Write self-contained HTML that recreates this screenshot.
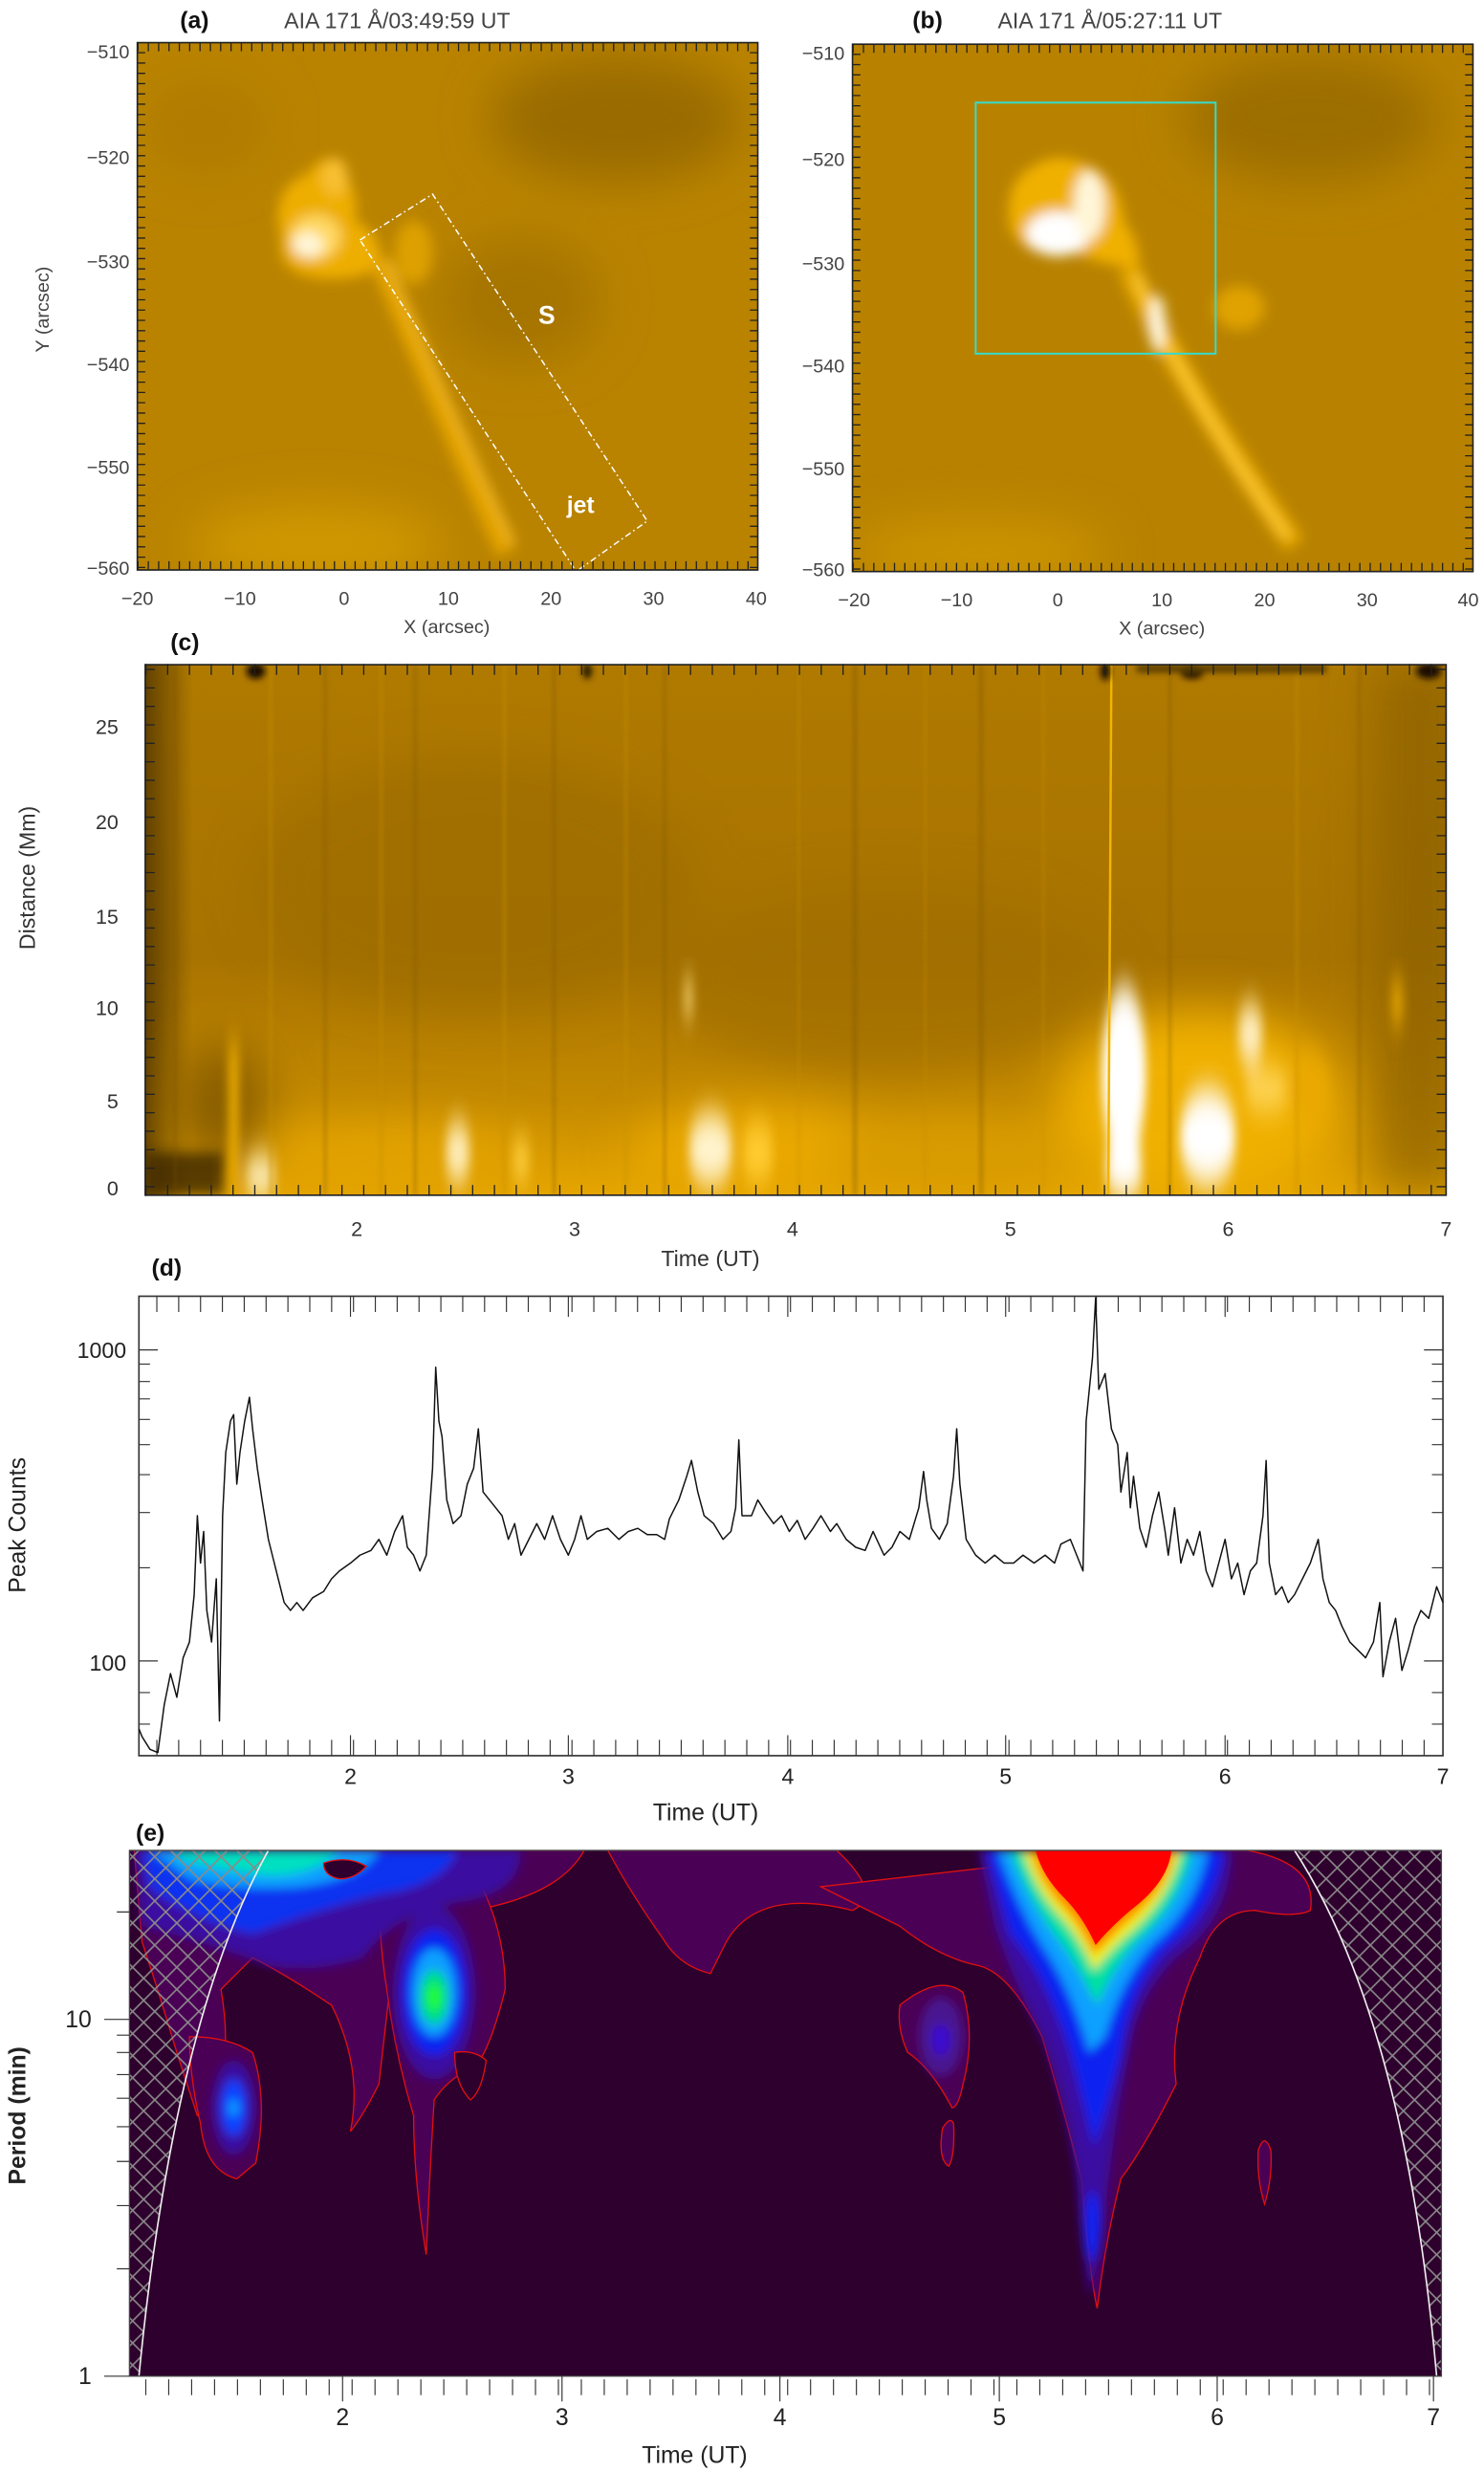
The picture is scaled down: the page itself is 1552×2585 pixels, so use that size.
<!DOCTYPE html>
<html><head><meta charset="utf-8"><style>
html,body{margin:0;padding:0;background:#fff;overflow:hidden;width:1552px;height:2585px;}
svg{display:block;}
text{font-family:"Liberation Sans",sans-serif;}
</style></head><body>
<svg width="1552" height="2585" viewBox="0 0 940 1565.7" preserveAspectRatio="none" xmlns="http://www.w3.org/2000/svg">
<defs>
<filter id="b2" x="-50%" y="-50%" width="200%" height="200%"><feGaussianBlur stdDeviation="2"/></filter>
<filter id="b4" x="-50%" y="-50%" width="200%" height="200%"><feGaussianBlur stdDeviation="4"/></filter>
<filter id="b15" x="-50%" y="-50%" width="200%" height="200%"><feGaussianBlur stdDeviation="15"/></filter>
<filter id="b1" x="-20%" y="-20%" width="140%" height="140%"><feGaussianBlur stdDeviation="1.2"/></filter>
<filter id="bv" x="-50%" y="-10%" width="200%" height="120%"><feGaussianBlur stdDeviation="3 10"/></filter>
<filter id="bc" x="-10%" y="-10%" width="120%" height="120%"><feGaussianBlur stdDeviation="3"/></filter>
<clipPath id="ca"><rect x="87" y="27" width="393" height="334"/></clipPath>
<clipPath id="cb"><rect x="540" y="28" width="393" height="334"/></clipPath>
<clipPath id="cc"><rect x="92" y="421" width="824" height="336"/></clipPath>
<clipPath id="ce"><rect x="82" y="1172" width="831" height="333"/></clipPath>
<linearGradient id="gc" x1="0" y1="0" x2="0" y2="1">
<stop offset="0" stop-color="#b07a00"/><stop offset="0.55" stop-color="#a87300"/><stop offset="0.82" stop-color="#c48a00"/><stop offset="1" stop-color="#e6a600"/>
</linearGradient>
<linearGradient id="gl" x1="0" y1="0" x2="1" y2="0">
<stop offset="0" stop-color="#5a3c00" stop-opacity="0.9"/><stop offset="1" stop-color="#5a3c00" stop-opacity="0"/>
</linearGradient>
<pattern id="hatch" width="14" height="14" patternUnits="userSpaceOnUse">
<path d="M0,0 L14,14 M14,0 L0,14" stroke="#8a8a8a" stroke-width="1"/>
</pattern>
</defs>
<rect width="940" height="1566" fill="#fff"/>

<!-- ===== Panel a ===== -->
<g clip-path="url(#ca)">
<rect x="87" y="27" width="393" height="334" fill="#b98300"/>
<g filter="url(#b15)">
<ellipse cx="390" cy="75" rx="80" ry="40" fill="#9a6c00"/>
<ellipse cx="330" cy="190" rx="50" ry="40" fill="#a67500"/>
<ellipse cx="130" cy="80" rx="40" ry="30" fill="#b07c00"/>
<ellipse cx="200" cy="345" rx="80" ry="25" fill="#d09800"/>
</g>
<g filter="url(#b4)">
<path d="M178,150 Q170,120 195,110 Q205,95 215,105 Q228,120 225,140 Q245,150 240,170 Q220,180 195,175 Q175,170 178,150 Z" fill="#eeae00"/>
<ellipse cx="200" cy="150" rx="16" ry="14" fill="#ffd860"/>
<ellipse cx="195" cy="155" rx="10" ry="8" fill="#fff6d8"/>
<ellipse cx="212" cy="112" rx="8" ry="12" fill="#f8c030"/>
<path d="M240,165 Q275,250 320,350" stroke="#e2a200" stroke-width="12" fill="none"/>
<path d="M245,165 Q280,250 325,345" stroke="#f7bb20" stroke-width="4" fill="none"/>
<ellipse cx="262" cy="160" rx="12" ry="20" fill="#dda000"/>
</g>
<polygon points="228,152 274,123 410,330 365,362" fill="none" stroke="#fff" stroke-width="0.9" stroke-dasharray="4 2 1 2"/>
</g>
<text x="341" y="205" fill="#fff" font-weight="bold" font-size="16">S</text>
<text x="359" y="325" fill="#fff" font-weight="bold" font-size="15">jet</text>
<rect x="87" y="27" width="393" height="334" fill="none" stroke="#222" stroke-width="1"/>
<g stroke="#222" stroke-width="0.8">
<line x1="87" y1="30" x2="480" y2="30" stroke-width="5" stroke-dasharray="0.8 5.75"/>
<line x1="87" y1="358" x2="480" y2="358" stroke-width="5" stroke-dasharray="0.8 5.75"/>
<line x1="89.5" y1="33" x2="89.5" y2="361" stroke-width="5" stroke-dasharray="0.8 5.72"/>
<line x1="477.5" y1="33" x2="477.5" y2="361" stroke-width="5" stroke-dasharray="0.8 5.72"/>
</g>
<g font-size="12" fill="#444" text-anchor="middle">
<text x="87" y="383">−20</text><text x="152" y="383">−10</text><text x="218" y="383">0</text><text x="284" y="383">10</text><text x="349" y="383">20</text><text x="414" y="383">30</text><text x="479" y="383">40</text>
<text x="283" y="401">X (arcsec)</text>
</g>
<g font-size="12" fill="#444" text-anchor="end">
<text x="82" y="37">−510</text><text x="82" y="104">−520</text><text x="82" y="170">−530</text><text x="82" y="235">−540</text><text x="82" y="300">−550</text><text x="82" y="364">−560</text>
</g>
<text transform="translate(31,196) rotate(-90)" font-size="12" fill="#444" text-anchor="middle">Y (arcsec)</text>
<text x="114" y="18" font-size="15" font-weight="bold" fill="#111">(a)</text>
<text x="180" y="18" font-size="14" fill="#444">AIA 171 Å/03:49:59 UT</text>

<!-- ===== Panel b ===== -->
<g clip-path="url(#cb)">
<rect x="540" y="28" width="393" height="334" fill="#b88200"/>
<g filter="url(#b15)">
<ellipse cx="830" cy="75" rx="80" ry="40" fill="#9c6e00"/>
<ellipse cx="620" cy="350" rx="80" ry="20" fill="#cc9400"/>
</g>
<g filter="url(#b4)">
<path d="M640,145 Q635,115 655,105 Q670,95 690,105 Q710,115 712,140 Q725,160 720,170 Q700,168 680,160 Q650,165 640,145 Z" fill="#f0b000"/>
<ellipse cx="670" cy="148" rx="20" ry="14" fill="#ffffff"/>
<ellipse cx="690" cy="130" rx="10" ry="22" fill="#fff6d8"/>
<ellipse cx="785" cy="195" rx="16" ry="14" fill="#dfa200"/>
<path d="M715,170 Q740,230 820,345" stroke="#e6a800" stroke-width="14" fill="none"/>
<path d="M720,175 Q745,240 815,340" stroke="#ffcc30" stroke-width="5" fill="none"/>
<ellipse cx="733" cy="205" rx="5" ry="18" fill="#fff8e0"/>
</g>
<rect x="618" y="65" width="152" height="159" fill="none" stroke="#33ddd0" stroke-width="1.2"/>
</g>
<rect x="540" y="28" width="393" height="334" fill="none" stroke="#222" stroke-width="1"/>
<g stroke="#222" stroke-width="0.8">
<line x1="540" y1="31" x2="933" y2="31" stroke-width="5" stroke-dasharray="0.8 5.75"/>
<line x1="540" y1="359" x2="933" y2="359" stroke-width="5" stroke-dasharray="0.8 5.75"/>
<line x1="542.5" y1="34" x2="542.5" y2="362" stroke-width="5" stroke-dasharray="0.8 5.72"/>
<line x1="930.5" y1="34" x2="930.5" y2="362" stroke-width="5" stroke-dasharray="0.8 5.72"/>
</g>
<g font-size="12" fill="#444" text-anchor="middle">
<text x="541" y="384">−20</text><text x="606" y="384">−10</text><text x="670" y="384">0</text><text x="736" y="384">10</text><text x="801" y="384">20</text><text x="866" y="384">30</text><text x="930" y="384">40</text>
<text x="736" y="402">X (arcsec)</text>
</g>
<g font-size="12" fill="#444" text-anchor="end">
<text x="535" y="38">−510</text><text x="535" y="105">−520</text><text x="535" y="171">−530</text><text x="535" y="236">−540</text><text x="535" y="301">−550</text><text x="535" y="365">−560</text>
</g>
<text x="578" y="18" font-size="15" font-weight="bold" fill="#111">(b)</text>
<text x="632" y="18" font-size="14" fill="#444">AIA 171 Å/05:27:11 UT</text>

<!-- ===== Panel c ===== -->
<g clip-path="url(#cc)">
<rect x="92" y="421" width="824" height="336" fill="url(#gc)"/>
<rect x="92" y="421" width="30" height="336" fill="url(#gl)"/>
<g filter="url(#b15)">
<rect x="870" y="421" width="60" height="336" fill="#8a6000" opacity="0.7"/>
<ellipse cx="300" cy="560" rx="140" ry="80" fill="#9c6c00" opacity="0.7"/>
<ellipse cx="560" cy="620" rx="140" ry="60" fill="#a06e00" opacity="0.7"/>
<ellipse cx="250" cy="735" rx="90" ry="22" fill="#e2a200"/>
<ellipse cx="480" cy="730" rx="80" ry="30" fill="#eaa800"/>
<ellipse cx="760" cy="700" rx="90" ry="60" fill="#f0b000"/>
<ellipse cx="600" cy="735" rx="80" ry="22" fill="#d89b00"/>
<ellipse cx="140" cy="700" rx="30" ry="40" fill="#8a5e00"/>
</g>
<rect x="92" y="730" width="50" height="27" fill="#3a2600" filter="url(#b4)" opacity="0.8"/>
<g filter="url(#bv)">
<rect x="145" y="660" width="6" height="97" fill="#f0b000"/>
<ellipse cx="165" cy="745" rx="10" ry="12" fill="#fff4cc"/>
<ellipse cx="290" cy="730" rx="8" ry="18" fill="#fff0c0"/>
<ellipse cx="330" cy="735" rx="6" ry="12" fill="#ffd040"/>
<ellipse cx="450" cy="728" rx="14" ry="22" fill="#fff4d0"/>
<ellipse cx="480" cy="730" rx="10" ry="18" fill="#ffcc30"/>
<ellipse cx="436" cy="632" rx="3" ry="12" fill="#ffe080"/>
<ellipse cx="712" cy="680" rx="14" ry="55" fill="#ffffff"/>
<ellipse cx="712" cy="740" rx="12" ry="18" fill="#ffffff"/>
<ellipse cx="765" cy="720" rx="18" ry="30" fill="#ffffff"/>
<ellipse cx="792" cy="655" rx="8" ry="18" fill="#fff0c8"/>
<ellipse cx="802" cy="690" rx="14" ry="12" fill="#ffd860"/>
<ellipse cx="830" cy="690" rx="12" ry="20" fill="#eaa800"/>
<ellipse cx="885" cy="635" rx="4" ry="15" fill="#e8a800"/>
</g>
<g opacity="0.3" filter="url(#b1)">
<rect x="110" y="421" width="2" height="336" fill="#7a5400"/><rect x="170" y="421" width="3" height="336" fill="#c99200"/>
<rect x="205" y="421" width="2" height="336" fill="#805800"/><rect x="240" y="421" width="3" height="336" fill="#c89000"/>
<rect x="262" y="421" width="2" height="336" fill="#7e5600"/><rect x="318" y="421" width="3" height="336" fill="#c99200"/>
<rect x="350" y="421" width="2" height="336" fill="#7a5400"/><rect x="395" y="421" width="3" height="336" fill="#c89000"/>
<rect x="420" y="421" width="2" height="336" fill="#7e5600"/><rect x="505" y="421" width="2" height="336" fill="#c99200"/>
<rect x="540" y="421" width="3" height="336" fill="#7a5400"/><rect x="585" y="421" width="2" height="336" fill="#c89000"/>
<rect x="620" y="421" width="3" height="336" fill="#7e5600"/><rect x="660" y="421" width="2" height="336" fill="#c99200"/>
<rect x="740" y="421" width="2" height="336" fill="#7a5400"/><rect x="820" y="421" width="3" height="336" fill="#c89000"/>
<rect x="860" y="421" width="2" height="336" fill="#7e5600"/>
</g>
<line x1="704" y1="421" x2="702" y2="757" stroke="#f2b400" stroke-width="1.5"/>
<g filter="url(#b2)">
<ellipse cx="162" cy="425" rx="6" ry="5" fill="#1a1000"/>
<ellipse cx="372" cy="425" rx="3" ry="5" fill="#2a1a00"/>
<ellipse cx="700" cy="425" rx="3" ry="6" fill="#1a1000"/>
<ellipse cx="755" cy="425" rx="8" ry="5" fill="#1a1000"/>
<ellipse cx="905" cy="425" rx="8" ry="5" fill="#1a1000"/>
<rect x="720" y="421" width="120" height="5" fill="#5a3c00"/>
</g>
</g>
<rect x="92" y="421" width="824" height="336" fill="none" stroke="#222" stroke-width="1"/>
<g stroke="#222">
<line x1="92" y1="424" x2="916" y2="424" stroke-width="7" stroke-dasharray="0.8 13"/>
<line x1="92" y1="754" x2="916" y2="754" stroke-width="7" stroke-dasharray="0.8 13"/>
<line x1="95" y1="752" x2="95" y2="421" stroke-width="6" stroke-dasharray="0.8 10.9"/>
<line x1="913" y1="752" x2="913" y2="421" stroke-width="6" stroke-dasharray="0.8 10.9"/>
</g>
<g font-size="13" fill="#333" text-anchor="middle">
<text x="226" y="783">2</text><text x="364" y="783">3</text><text x="502" y="783">4</text><text x="640" y="783">5</text><text x="778" y="783">6</text><text x="916" y="783">7</text>
<text x="450" y="802" font-size="14">Time (UT)</text>
</g>
<g font-size="13" fill="#333" text-anchor="end">
<text x="75" y="757">0</text><text x="75" y="702">5</text><text x="75" y="643">10</text><text x="75" y="585">15</text><text x="75" y="525">20</text><text x="75" y="465">25</text>
</g>
<text transform="translate(22,556) rotate(-90)" font-size="14" fill="#333" text-anchor="middle">Distance (Mm)</text>
<text x="108" y="412" font-size="15" font-weight="bold" fill="#111">(c)</text>

<!-- ===== Panel d ===== -->
<rect x="88" y="821" width="826" height="291" fill="#fff" stroke="#333" stroke-width="1"/>
<g stroke="#333" stroke-width="0.7">
<line x1="88" y1="826" x2="914" y2="826" stroke-width="10" stroke-dasharray="0.7 13.14" stroke-dashoffset="-11"/>
<line x1="88" y1="1107" x2="914" y2="1107" stroke-width="10" stroke-dasharray="0.7 13.14" stroke-dashoffset="-11"/>
<path d="M222,821v13M360,821v13M499,821v13M637,821v13M776,821v13M222,1112v-13M360,1112v-13M499,1112v-13M637,1112v-13M776,1112v-13"/>
<path d="M88,855h12M914,855h-12M88,1052h12M914,1052h-12"/>
<path d="M88,993h7M88,958h7M88,934h7M88,915h7M88,899h7M88,886h7M88,875h7M88,864h7M88,1092h7M88,1072h7
M914,993h-7M914,958h-7M914,934h-7M914,915h-7M914,899h-7M914,886h-7M914,875h-7M914,864h-7M914,1092h-7M914,1072h-7"/>
</g>
<polyline fill="none" stroke="#111" stroke-width="0.9" stroke-linejoin="round" points="88,1095 90,1100 95,1108 100,1110 104,1080 108,1060 112,1075 116,1050 120,1040 123,1010 125,960 127,990 129,970 131,1020 134,1040 137,1000 139,1090 141,960 143,920 146,900 148,896 150,940 152,920 155,900 158,885 160,905 163,930 166,950 170,975 175,995 180,1015 184,1020 188,1015 192,1020 198,1012 205,1008 210,1000 215,995 222,990 228,985 235,982 240,975 245,985 250,970 255,960 258,980 262,985 266,995 270,985 274,930 276,866 278,900 280,910 283,950 287,965 292,960 296,940 300,930 303,905 306,945 310,950 314,955 318,960 322,975 326,965 330,985 335,975 340,965 345,975 350,960 355,975 360,985 364,975 368,960 372,975 378,970 385,968 392,975 398,970 404,968 410,972 416,972 421,975 424,962 430,950 435,935 438,925 442,945 446,960 452,965 458,975 463,970 466,955 468,912 470,960 476,960 480,950 485,958 490,965 495,960 500,970 505,963 510,975 515,968 520,960 526,970 530,965 536,975 542,980 548,982 553,970 560,985 565,980 570,970 576,975 582,955 585,932 587,950 590,968 595,975 600,965 604,935 606,905 608,940 612,975 618,985 624,990 630,985 636,990 642,990 648,985 655,990 662,985 668,990 672,978 678,975 682,985 686,995 688,900 692,860 694,822 696,880 700,870 704,905 708,915 710,945 714,920 716,955 718,935 722,968 726,980 730,960 734,945 738,970 740,985 744,955 748,990 752,975 756,985 760,970 764,995 768,1005 772,990 776,975 780,1000 784,990 788,1010 792,995 796,990 800,960 802,925 804,990 808,1010 812,1005 816,1015 820,1010 825,1000 830,990 835,975 838,1000 842,1015 846,1020 850,1030 855,1040 860,1045 865,1050 870,1040 874,1015 876,1062 880,1040 884,1025 888,1058 892,1045 896,1030 900,1020 905,1025 910,1005 914,1015"/>
<g font-size="14" fill="#222" text-anchor="middle">
<text x="222" y="1130">2</text><text x="360" y="1130">3</text><text x="499" y="1130">4</text><text x="637" y="1130">5</text><text x="776" y="1130">6</text><text x="914" y="1130">7</text>
<text x="447" y="1153" font-size="15">Time (UT)</text>
</g>
<g font-size="14" fill="#222" text-anchor="end">
<text x="80" y="860">1000</text><text x="80" y="1058">100</text>
</g>
<text transform="translate(16,966) rotate(-90)" font-size="15" fill="#222" text-anchor="middle">Peak Counts</text>
<text x="96" y="808" font-size="15" font-weight="bold" fill="#111">(d)</text>

<!-- ===== Panel e ===== -->
<g clip-path="url(#ce)">
<rect x="82" y="1172" width="831" height="333" fill="#2e002d"/>
<g fill="#4a0055" stroke="#e01010" stroke-width="0.8">
<path d="M85,1172 L370,1172 Q355,1200 300,1210 Q260,1215 248,1250 L240,1320 Q230,1340 222,1350 Q230,1310 210,1270 Q180,1250 160,1240 L140,1260 Q150,1320 125,1340 L112,1300 Q100,1260 90,1230 Z"/>
<path d="M120,1290 Q145,1290 160,1300 Q170,1330 162,1370 L150,1380 Q130,1375 127,1345 Q120,1315 120,1290 Z"/>
<path d="M240,1190 Q270,1180 285,1175 L300,1185 Q320,1220 320,1260 Q310,1300 300,1310 Q285,1315 275,1330 Q272,1380 270,1428 Q262,1380 262,1340 Q250,1300 245,1260 Q240,1230 240,1190 Z"/>
<path d="M385,1172 L530,1172 Q560,1200 540,1210 Q480,1195 460,1230 L450,1250 Q430,1245 420,1228 Q400,1200 385,1172 Z"/>
<path d="M520,1195 L720,1172 L790,1172 Q835,1180 830,1210 Q820,1215 795,1210 Q770,1210 760,1240 Q740,1280 745,1320 Q725,1360 710,1380 Q700,1420 695,1462 Q690,1440 685,1380 Q672,1330 660,1290 Q640,1250 620,1245 Q595,1240 570,1220 Z"/>
<path d="M570,1270 Q595,1250 610,1262 Q618,1290 610,1320 Q607,1335 603,1335 Q590,1310 575,1300 Q568,1285 570,1270 Z"/>
<path d="M597,1348 Q602,1340 604,1345 Q605,1365 601,1372 Q594,1368 597,1348 Z"/>
<path d="M797,1362 Q801,1350 805,1362 Q806,1380 801,1396 Q796,1380 797,1362 Z"/>
</g>
<g filter="url(#bc)">
<path d="M85,1172 L330,1172 Q330,1200 290,1205 Q250,1212 230,1240 Q200,1250 170,1245 Q130,1230 90,1220 Z" fill="#3a10a0"/>
<path d="M90,1172 L290,1172 Q280,1195 240,1200 Q200,1210 160,1225 Q120,1215 95,1195 Z" fill="#1030f0"/>
<path d="M95,1172 L240,1172 Q230,1190 190,1195 Q150,1198 120,1190 Z" fill="#10a0ff"/>
<path d="M110,1172 L215,1172 Q200,1188 170,1188 Q140,1185 115,1178 Z" fill="#00e0c0"/>
<ellipse cx="148" cy="1335" rx="14" ry="30" fill="#3a10a0"/>
<ellipse cx="148" cy="1335" rx="8" ry="18" fill="#1040ff"/>
<ellipse cx="148" cy="1335" rx="3" ry="6" fill="#10a0ff"/>
<ellipse cx="275" cy="1262" rx="26" ry="55" fill="#3a10a0"/>
<ellipse cx="275" cy="1262" rx="20" ry="40" fill="#1020f0"/>
<ellipse cx="275" cy="1262" rx="14" ry="28" fill="#10a0ff"/>
<ellipse cx="275" cy="1265" rx="9" ry="17" fill="#00e080"/>
<ellipse cx="275" cy="1265" rx="4" ry="8" fill="#20ff20"/>
<ellipse cx="596" cy="1290" rx="14" ry="25" fill="#4a1890"/>
<ellipse cx="596" cy="1292" rx="6" ry="10" fill="#3a10d0"/>
<path d="M620,1172 L780,1172 Q780,1215 745,1240 Q720,1265 715,1300 Q705,1350 700,1400 Q695,1440 690,1455 Q685,1420 682,1380 Q675,1330 660,1290 Q640,1250 630,1220 Z" fill="#3a10a0"/>
<path d="M625,1172 L775,1172 Q770,1210 738,1235 Q715,1260 710,1300 Q700,1340 693,1360 Q686,1330 678,1300 Q662,1250 640,1225 Z" fill="#1020f0"/>
<path d="M632,1172 L765,1172 Q758,1208 730,1232 Q710,1255 700,1290 L690,1300 Q680,1265 665,1240 Q645,1210 632,1172 Z" fill="#10a0ff"/>
<path d="M640,1172 L755,1172 Q748,1205 722,1228 Q705,1245 695,1270 Q680,1240 668,1225 Q650,1200 640,1172 Z" fill="#00e0a0"/>
<path d="M648,1172 L748,1172 Q742,1200 718,1222 Q703,1235 693,1248 Q683,1225 670,1212 Q655,1195 648,1172 Z" fill="#f0f000"/>
<path d="M653,1172 L744,1172 Q740,1195 716,1215 Q702,1228 693,1238 Q684,1218 672,1206 Q658,1190 653,1172 Z" fill="#ff8000"/>
<ellipse cx="692" cy="1410" rx="5" ry="22" fill="#1020f0"/>
</g>
<path d="M656,1172 L742,1172 Q740,1192 716,1210 Q702,1222 694,1232 Q686,1214 674,1202 Q660,1188 656,1172 Z" fill="#ff0000"/>
<path d="M205,1180 Q220,1175 232,1182 Q225,1190 215,1190 Q205,1188 205,1180 Z" fill="#2e002d" stroke="#e01010" stroke-width="0.8"/>
<path d="M288,1300 Q300,1298 308,1305 Q305,1325 298,1330 Q288,1320 288,1300 Z" fill="#2e002d" stroke="#e01010" stroke-width="0.8"/>
<path d="M82,1172 L170,1172 Q110,1280 88,1505 L82,1505 Z" fill="url(#hatch)"/>
<path d="M913,1172 L820,1172 Q890,1280 910,1505 L913,1505 Z" fill="url(#hatch)"/>
<path d="M170,1172 Q110,1280 88,1505" fill="none" stroke="#eee" stroke-width="1"/>
<path d="M820,1172 Q890,1280 910,1505" fill="none" stroke="#eee" stroke-width="1"/>
</g>
<rect x="82" y="1172" width="831" height="333" fill="none" stroke="#444" stroke-width="0.8"/>
<g stroke="#333" stroke-width="0.7">
<line x1="82" y1="1512" x2="913" y2="1512" stroke-width="10" stroke-dasharray="0.7 13.82" stroke-dashoffset="-10"/>
<path d="M217,1505v16M356,1505v16M494,1505v16M633,1505v16M771,1505v16M908,1505v16"/>
<path d="M66,1505h16M66,1279h16M74,1437h8M74,1397h8M74,1369h8M74,1347h8M74,1329h8M74,1314h8M74,1300h8M74,1289h8M74,1211h8"/>
</g>
<g font-size="15" fill="#222" text-anchor="middle">
<text x="217" y="1536">2</text><text x="356" y="1536">3</text><text x="494" y="1536">4</text><text x="633" y="1536">5</text><text x="771" y="1536">6</text><text x="908" y="1536">7</text>
<text x="440" y="1560" font-size="15">Time (UT)</text>
</g>
<g font-size="15" fill="#222" text-anchor="end">
<text x="58" y="1284">10</text><text x="58" y="1510">1</text>
</g>
<text transform="translate(16,1340) rotate(-90)" font-size="15" font-weight="bold" fill="#222" text-anchor="middle">Period (min)</text>
<text x="86" y="1166" font-size="15" font-weight="bold" fill="#111">(e)</text>
</svg>
</body></html>
